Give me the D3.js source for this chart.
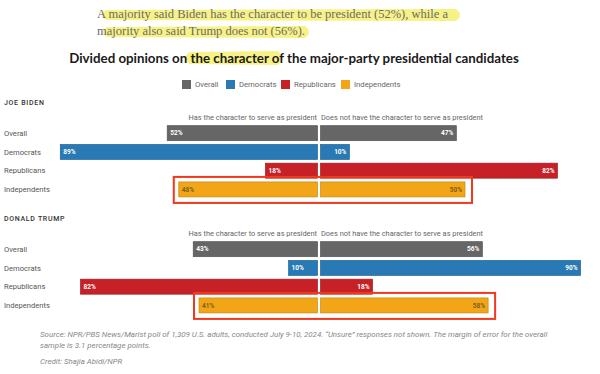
<!DOCTYPE html>
<html>
<head>
<meta charset="utf-8">
<script src="https://cdn.jsdelivr.net/npm/d3@7"></script>
<style>
  body { margin: 0; background: #fff; }
  .lead { font-family: "Liberation Serif", "DejaVu Serif", serif; font-size: 12.5px; fill: #6b6b6b; }
  .title { font-family: Lato, sans-serif; font-weight: 700; font-size: 13.3px; fill: #1a1a1a; }
  .legend-text { font-family: Roboto, sans-serif; font-size: 7.7px; fill: #666; }
  .section { font-family: Roboto, sans-serif; font-weight: 500; font-size: 7px; letter-spacing: 0.7px; fill: #333; }
  .col-head { font-family: Roboto, sans-serif; font-size: 7.4px; fill: #666; }
  .row-label { font-family: Roboto, sans-serif; font-size: 7.6px; fill: #555; }
  .value { font-family: Roboto, sans-serif; font-weight: 700; font-size: 6.5px; }
  .note { font-family: Roboto, sans-serif; font-style: italic; font-size: 7.9px; fill: #888; }
</style>
</head>
<body>
<div id="chart"></div>
<script>

// categories and colours
var groups = ["Overall", "Democrats", "Republicans", "Independents"];
var groupColors = ["#666666", "#2879b4", "#c62127", "#f2a516"];

// percent values
var bidenHas = [52, 89, 18, 48];
var bidenNot = [47, 10, 82, 50];
var trumpHas = [43, 10, 82, 41];
var trumpNot = [56, 90, 18, 58];

var leadLines = [
    "A majority said Biden has the character to be president (52%), while a",
    "majority also said Trump does not (56%)."
];
var titleText = "Divided opinions on the character of the major-party presidential candidates";
var noteLines = [
    "Source: NPR/PBS News/Marist poll of 1,309 U.S. adults, conducted July 9-10, 2024. \u201cUnsure\u201d responses not shown. The margin of error for the overall",
    "sample is 3.1 percentage points."
];

var width = 600, height = 374;
var midX = 319;   // gap between the two sides

var svg = d3.select("#chart").append("svg")
    .attr("width", width)
    .attr("height", height);

// yellow marker highlights go underneath the text
var markerLayer = svg.append("g");
var marker = "#f4ee5c";
function brush(x0, x1, y0, y1) {
    var p = d3.path();
    var r = (y1 - y0) / 2;
    p.moveTo(x0 + r, y0 + 1);
    p.lineTo(x1 - r, y0);
    p.quadraticCurveTo(x1 + 2, (y0 + y1) / 2, x1 - r, y1);
    p.lineTo(x0 + r, y1 - 1);
    p.quadraticCurveTo(x0 - 2, (y0 + y1) / 2, x0 + r, y0 + 1);
    markerLayer.append("path").attr("d", p.toString())
        .attr("fill", marker).attr("opacity", 0.75);
}

// lead paragraph
var lead = svg.selectAll(".lead").data(leadLines).enter()
    .append("text")
    .attr("class", "lead")
    .attr("x", 97)
    .attr("y", function(d, i) { return 18 + i * 17; })
    .text(function(d) { return d; });
lead.each(function(d, i) {
    var len = this.getComputedTextLength();
    if (i === 0) brush(100, 97 + len + 14, 9, 21);
    else brush(101, 97 + len + 6, 26, 38);
});

// title
var title = svg.append("text")
    .attr("class", "title")
    .attr("x", 294)
    .attr("y", 63)
    .attr("text-anchor", "middle")
    .text(titleText);
var tnode = title.node();
var tStart = 294 - tnode.getComputedTextLength() / 2;
var hlFrom = titleText.indexOf("the character of") - 2;   // middle of the "n"
var hlTo = titleText.indexOf("the character of") + "the character of".length;
brush(tStart + tnode.getSubStringLength(0, hlFrom) + 3,
      tStart + tnode.getSubStringLength(0, hlTo) + 1, 51, 65);

// legend
var legendX = [182, 226, 281, 341];
var legend = svg.selectAll(".legend").data(groups).enter()
    .append("g")
    .attr("transform", function(d, i) { return "translate(" + legendX[i] + ",80)"; });
legend.append("rect")
    .attr("width", 9).attr("height", 9)
    .attr("fill", function(d, i) { return groupColors[i]; });
legend.append("text")
    .attr("class", "legend-text")
    .attr("x", 13).attr("y", 7.4)
    .text(function(d) { return d; });

// scales
var x = d3.scaleLinear().domain([0, 100]).range([0, 289]);

function drawSection(name, top, hasVals, notVals) {
    var g = svg.append("g");

    g.append("text")
        .attr("class", "section")
        .attr("x", 4).attr("y", top - 19)
        .text(name);

    g.append("text")
        .attr("class", "col-head")
        .attr("x", midX - 2).attr("y", top - 4)
        .attr("text-anchor", "end")
        .text("Has the character to serve as president");
    g.append("text")
        .attr("class", "col-head")
        .attr("x", midX + 2).attr("y", top - 4)
        .text("Does not have the character to serve as president");

    var y = d3.scaleBand()
        .domain(groups)
        .range([top, top + 75])
        .paddingInner(0.2)
        .paddingOuter(0.1);

    var rows = groups.map(function(d, i) {
        return { group: d, color: groupColors[i], has: hasVals[i], not: notVals[i] };
    });

    g.selectAll(".row-label").data(rows).enter()
        .append("text")
        .attr("class", "row-label")
        .attr("x", 4)
        .attr("y", function(d) { return y(d.group) + y.bandwidth() / 2 + 2.7; })
        .text(function(d) { return d.group; });

    // left bars
    g.selectAll(".bar-has").data(rows).enter()
        .append("rect")
        .attr("x", function(d) { return midX - 1.5 - x(d.has); })
        .attr("y", function(d) { return y(d.group); })
        .attr("width", function(d) { return x(d.has); })
        .attr("height", y.bandwidth())
        .attr("fill", function(d) { return d.color; })
        .attr("stroke", function(d) { return d3.color(d.color).darker(0.5); })
        .attr("stroke-width", 0.7);

    // right bars
    g.selectAll(".bar-not").data(rows).enter()
        .append("rect")
        .attr("x", midX + 1.5)
        .attr("y", function(d) { return y(d.group); })
        .attr("width", function(d) { return x(d.not); })
        .attr("height", y.bandwidth())
        .attr("fill", function(d) { return d.color; })
        .attr("stroke", function(d) { return d3.color(d.color).darker(0.5); })
        .attr("stroke-width", 0.7);

    function valueFill(d) { return d.group === "Independents" ? "#7d6020" : "#fff"; }
    function valueWeight(d) { return d.group === "Independents" ? 400 : 700; }

    g.selectAll(".val-has").data(rows).enter()
        .append("text")
        .attr("class", "value")
        .attr("x", function(d) { return midX - 1.5 - x(d.has) + 3; })
        .attr("y", function(d) { return y(d.group) + y.bandwidth() / 2 + 2.3; })
        .attr("fill", valueFill)
        .attr("font-weight", valueWeight)
        .text(function(d) { return d.has + "%"; });

    g.selectAll(".val-not").data(rows).enter()
        .append("text")
        .attr("class", "value")
        .attr("x", function(d) { return midX + 1.5 + x(d.not) - 3; })
        .attr("y", function(d) { return y(d.group) + y.bandwidth() / 2 + 2.3; })
        .attr("text-anchor", "end")
        .attr("fill", valueFill)
        .attr("font-weight", valueWeight)
        .text(function(d) { return d.not + "%"; });

    // red outline round the independents row
    var ind = rows[3];
    g.append("rect")
        .attr("x", midX - 1.5 - x(ind.has) - 5)
        .attr("y", y("Independents") - 5)
        .attr("width", x(ind.has) + x(ind.not) + 3 + 12)
        .attr("height", y.bandwidth() + 11)
        .attr("fill", "none")
        .attr("stroke", "#f2381c")
        .attr("stroke-width", 2);
}

drawSection("JOE BIDEN", 123.8, bidenHas, bidenNot);
drawSection("DONALD TRUMP", 239.8, trumpHas, trumpNot);

// notes
svg.selectAll(".note-line").data(noteLines).enter()
    .append("text")
    .attr("class", "note")
    .attr("x", 40)
    .attr("y", function(d, i) { return 337 + i * 11; })
    .text(function(d) { return d; });
svg.append("text")
    .attr("class", "note")
    .attr("x", 40)
    .attr("y", 364)
    .text("Credit: Shajia Abidi/NPR");

</script>
</body>
</html>
